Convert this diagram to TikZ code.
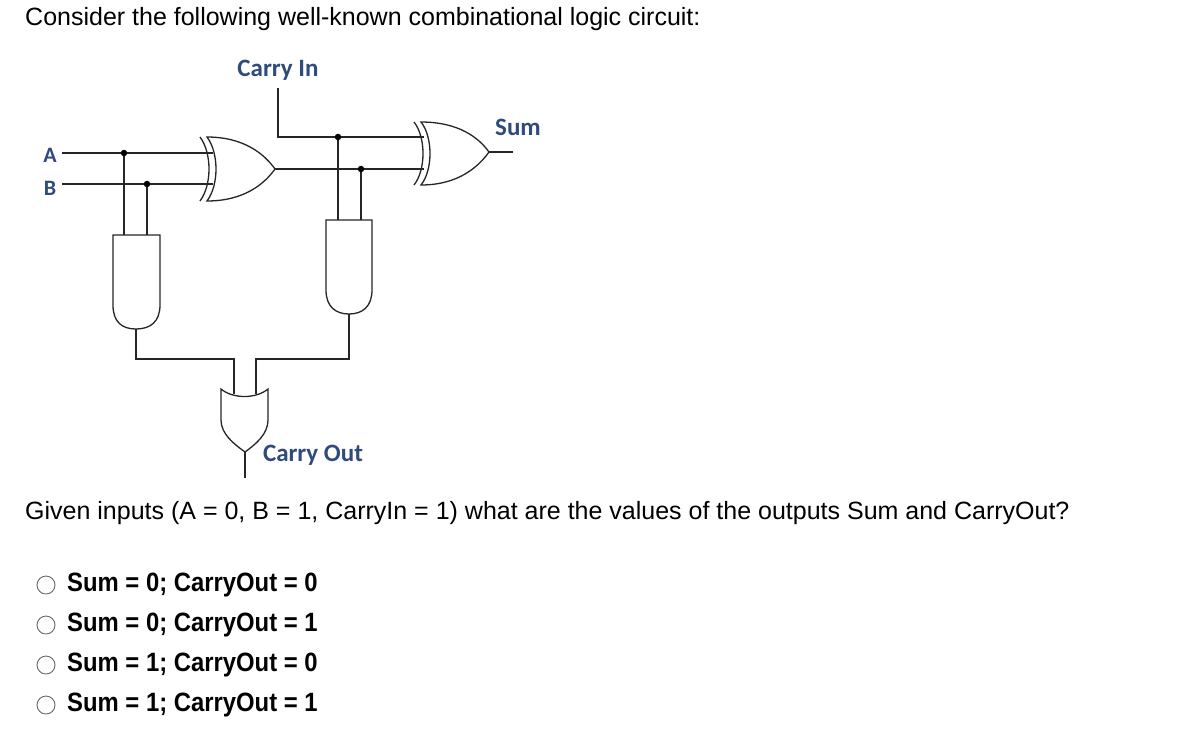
\documentclass[tikz,border=0pt]{standalone}
\usepackage{fontspec}
\setmainfont{Liberation Sans}
\newfontfamily\calfont{Carlito}
\definecolor{lblue}{HTML}{2F4A7C}
\begin{document}
\begin{tikzpicture}[x=1pt,y=-1pt,
  wire/.style={line width=1.3pt,black!85},
  gate/.style={line width=1.3pt,black!85,fill=white},
  dot/.style={circle,fill=black,inner sep=0pt,minimum size=6.5pt},
  lbl/.style={font=\calfont\bfseries\fontsize{25}{28}\selectfont,text=lblue,inner sep=0pt},
  txt/.style={font=\fontsize{25}{28}\selectfont,anchor=west,inner sep=0pt},
  opt/.style={font=\bfseries\fontsize{26.5}{30}\selectfont,anchor=west,inner sep=0pt,xscale=0.9},
  radio/.style={circle,draw=black!60,line width=0.9pt,minimum size=18pt,inner sep=0pt}]
\useasboundingbox (0,0) rectangle (1180,740);
\node[txt] (t1) at (25,19) {Consider the following well-known combinational logic circuit:};
\node[txt] (t2) at (25,513) {Given inputs (A = 0, B = 1, CarryIn = 1) what are the values of the outputs Sum and CarryOut?};
\foreach \y/\s/\c [count=\i] in {585/0/0,625/0/1,665/1/0,705/1/1}{
  \node[radio] (r\i) at (46,\y) {};
  \node[opt] (o\i) at (67,\y) {Sum = \s; CarryOut = \c};
}
% labels
\node[lbl] (cin) at (278,70) {Carry In};
\node[lbl] (sum) at (518,127) {Sum};
\node[lbl] (cout) at (313,455) {Carry Out};
\node[lbl,font=\calfont\bfseries\fontsize{22}{24}\selectfont] (la) at (50,155) {A};
\node[lbl,font=\calfont\bfseries\fontsize{22}{24}\selectfont] (lb) at (50,188) {B};
% coordinates
\coordinate (a0) at (62,153); \coordinate (a1) at (213,153);
\coordinate (b0) at (62,184); \coordinate (b1) at (213,184);
\coordinate (da) at (124,153); \coordinate (db) at (147,184);
\coordinate (c0) at (278,88); \coordinate (c1) at (278,137); \coordinate (c2) at (424,137);
\coordinate (x1) at (275,169); \coordinate (x2) at (424,169);
\coordinate (dc) at (338,137); \coordinate (dx) at (361,169);
\coordinate (s0) at (489,152); \coordinate (s1) at (513,152);
% wires
\draw[wire] (a0) -- (a1); \draw[wire] (b0) -- (b1);
\draw[wire] (c0) -- (c1) -- (c2);
\draw[wire] (x1) -- (x2);
\draw[wire] (s0) -- (s1);
\draw[wire] (da) -- (124,235); \draw[wire] (db) -- (147,235);
\draw[wire] (dc) -- (338,220); \draw[wire] (dx) -- (361,220);
\draw[wire] (136,329) -- (136,359) -- (234,359) -- (234,394);
\draw[wire] (349,314) -- (349,359) -- (256,359) -- (256,394);
\draw[wire] (245,452) -- (245,478);
% XOR1
\draw[gate] (207,137) .. controls (245,137) and (265,155) .. (275,169) .. controls (265,183) and (245,201) .. (207,201) .. controls (219,185) and (219,153) .. (207,137) -- cycle;
\draw[wire] (200,201) .. controls (212,185) and (212,153) .. (200,137);
% XOR2
\draw[gate] (421,122) .. controls (459,122) and (479,138) .. (489,152) .. controls (479,166) and (459,185) .. (421,185) .. controls (433,170) and (433,137) .. (421,122) -- cycle;
\draw[wire] (414,185) .. controls (426,170) and (426,137) .. (414,122);
% AND1
\draw[gate] (113,235) -- (160,235) -- (160,305) .. controls (160,322) and (150,329) .. (136,329) .. controls (122,329) and (113,322) .. (113,305) -- cycle;
% AND2
\draw[gate] (326,220) -- (372,220) -- (372,290) .. controls (372,307) and (362,314) .. (349,314) .. controls (336,314) and (326,307) .. (326,290) -- cycle;
% OR
\draw[gate] (221,389) .. controls (233,399) and (256,399) .. (268,389) -- (268,420) .. controls (268,434) and (256,444) .. (245,452) .. controls (234,444) and (221,434) .. (221,420) -- cycle;
\foreach \p in {da,db,dc,dx} \node[dot] at (\p) {};
\end{tikzpicture}
\end{document}
